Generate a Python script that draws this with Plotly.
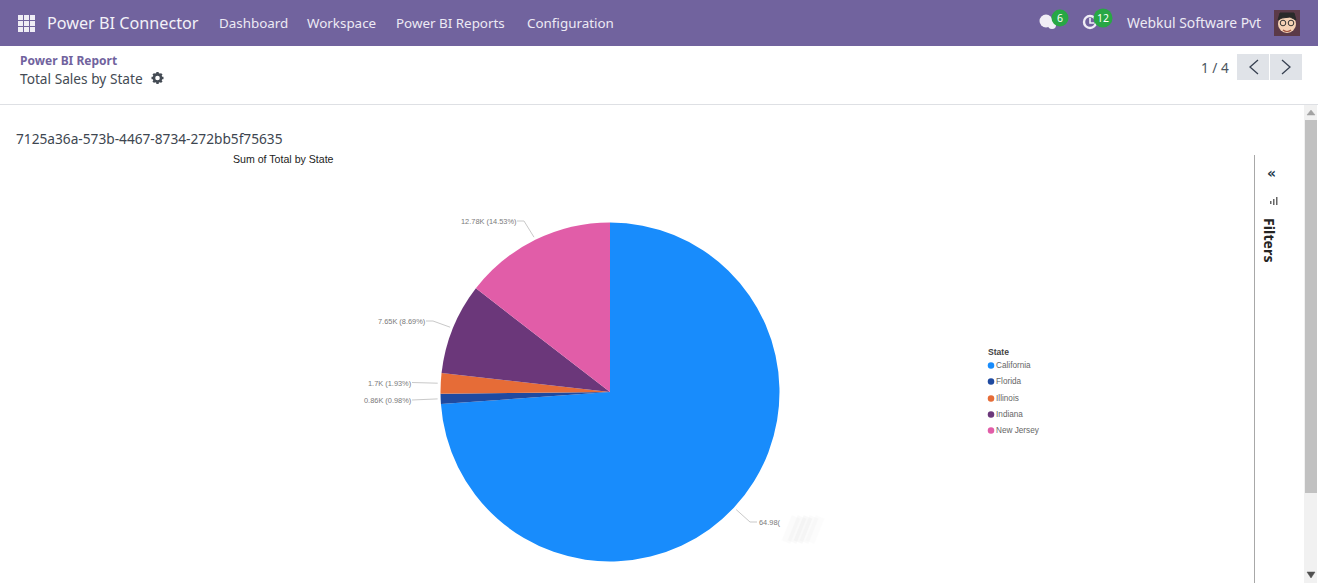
import math
import plotly.graph_objects as go

# ---- data ----
states = ["California", "Florida", "Illinois", "Indiana", "New Jersey"]
totals = [64.98, 0.86, 1.70, 7.65, 12.78]
shares = [73.87, 0.98, 1.93, 8.69, 14.53]
slice_labels = ["64.98(", "0.86K (0.98%)", "1.7K (1.93%)", "7.65K (8.69%)", "12.78K (14.53%)"]
colors = ["#188CFC", "#1F4AA0", "#E66C37", "#6B377A", "#E15DA8"]
chart_title = "Sum of Total by State"
legend_title = "State"
report_id = "7125a36a-573b-4467-8734-272bb5f75635"
menu_items = ["Dashboard", "Workspace", "Power BI Reports", "Configuration"]
menu_x = [219, 307, 396, 527]
legend_y = [365, 381, 398, 414, 430]

W, H = 1318, 583
CX, CY, R = 610, 392, 169.5
UI = "Noto Sans"
CHART = "Liberation Sans"
GREY = "#7a7a7a"
# elbow / end offsets of each leader line relative to the slice edge
elbows = [(750, 522, 757), (412, 400, 412), (412, 382.5, 412), (433, 321, 426), (524, 221, 517)]

shapes, notes = [], []


def text(x, y, s, size=13, color="#444", anchor="left", font=UI, **kw):
    notes.append(dict(x=x, y=y, text=s, xref="x", yref="y", showarrow=False, xanchor=anchor,
                      yanchor="middle", font=dict(family=font, size=size, color=color),
                      borderpad=0, borderwidth=0, **kw))


def rect(x0, y0, x1, y1, color, **kw):
    shapes.append(dict(type="rect", x0=x0, y0=y0, x1=x1, y1=y1, xref="x", yref="y",
                       fillcolor=color, line=dict(width=0), **kw))


def path(d, color, width=1.5, fill=None):
    shapes.append(dict(type="path", path=d, xref="x", yref="y", fillcolor=fill or "rgba(0,0,0,0)",
                       line=dict(color=color, width=width)))


def circle(x, y, r, color, line=None, width=0):
    shapes.append(dict(type="circle", x0=x - r, x1=x + r, y0=y - r, y1=y + r, xref="x", yref="y",
                       fillcolor=color, line=dict(color=line or color, width=width)))


# ---- navbar ----
rect(0, 0, W, 46, "#71639E")
for i in range(3):
    for j in range(3):
        rect(18 + i * 6, 15 + j * 6, 23 + i * 6, 20 + j * 6, "#EFEDF5")
text(47, 22.5, "Power BI Connector", 16.2, "#F3F1F8")
for label, x in zip(menu_items, menu_x):
    text(x, 22.5, label, 13.4, "#EDEAF4")
text(1127, 22.5, "Webkul Software Pvt", 13.9, "#EDEAF4")

# chat icon + badge
circle(1046, 21, 6.5, "#F0EEF6")
circle(1052, 25, 4, "#F0EEF6")
circle(1060, 18, 8.5, "#28A745")
text(1060, 17.5, "6", 10.5, "#FFFFFF", "center")
# clock icon + badge
circle(1090, 22, 6, "#71639E", "#F0EEF6", 2.4)
path("M 1090 18 L 1090 23 L 1094 23", "#F0EEF6", 1.6)
circle(1103, 18, 9.5, "#28A745")
text(1103, 17.5, "12", 10.5, "#FFFFFF", "center")

# avatar
rect(1274, 10, 1300, 36, "#5B3A48")
circle(1287, 24, 9, "#F5D2B5")
path("M 1278 20 L 1280 13 L 1294 13 L 1296 20 L 1290 17 L 1282 18 Z", "#2A2A2A", 1, "#2A2A2A")
circle(1283, 23, 2.8, "#F5D2B5", "#333333", 1)
circle(1291, 23, 2.8, "#F5D2B5", "#333333", 1)
path("M 1283 30 Q 1287 33 1291 30", "#A0503C", 1.2)

# ---- breadcrumb ----
text(20, 60.9, "<b>Power BI Report</b>", 12, "#71639E")
text(20, 78.5, "Total Sales by State", 13.7, "#444B54")
# solid gear
for k in range(4):
    a = k * math.pi / 4
    shapes.append(dict(type="line", xref="x", yref="y", x0=157.5 - 6 * math.cos(a), y0=78 - 6 * math.sin(a),
                       x1=157.5 + 6 * math.cos(a), y1=78 + 6 * math.sin(a), line=dict(color="#444B54", width=2.4)))
circle(157.5, 78, 3.6, "#FFFFFF", "#444B54", 2.6)
text(1229, 67, "1 / 4", 13.6, "#4A5560", "right")
rect(1237, 54, 1269, 80, "#E0E3E8")
rect(1270, 54, 1302, 80, "#E0E3E8")
path("M 1258 60 L 1250 67 L 1258 74", "#374151", 1.3)
path("M 1282 60 L 1290 67 L 1282 74", "#374151", 1.3)
rect(0, 104, W, 105, "#DEE0E4")

# ---- report body ----
text(16, 138.5, report_id, 13.7, "#3D4650")
text(283.5, 159, chart_title, 10.6, "#222222", "center", CHART)

# right rail
rect(1254, 155, 1255, 583, "#A8A8A8")
text(1271.5, 173, "<b>«</b>", 14, "#1F3A4D", "center", "DejaVu Sans")
for x0, y0 in ((1270, 201), (1273, 199), (1276, 197)):
    rect(x0, y0, x0 + 1.5, 205 if x0 != 1270 else 204, "#666666")
text(1270, 240, "<b>Filters</b>", 14.2, "#252423", "center", "Open Sans", textangle=90)

# scrollbar
rect(1304, 105, W - 1, 583, "#F1F1F1")
rect(1305, 120, 1317, 493, "#C1C1C1")
path("M 1307 115 L 1311 110 L 1315 115 Z", "#A3A3A3", 0.5, "#A3A3A3")
path("M 1307 572 L 1311 578 L 1315 572 Z", "#505050", 0.5, "#505050")

# ---- leader lines and slice labels (positions follow the slice mid-angles) ----
running = 0.0
total_share = sum(shares)
for label, share, (ex, ey, tx) in zip(slice_labels, shares, elbows):
    mid = (running + share / 2) / total_share * 2 * math.pi
    running += share
    sx = CX + (R + 3) * math.sin(mid)
    sy = CY - (R + 3) * math.cos(mid)
    path(f"M {sx:.1f} {sy:.1f} L {ex} {ey} L {tx} {ey}", "#C9C9C9", 1)
    if tx > CX:
        text(tx + 2, ey + 0.5, label, 7.4, GREY, "left", CHART)
    else:
        text(tx - 1, ey + 0.5, label, 7.4, GREY, "right", CHART)

# faint smudge beside the truncated California label
for dx, op in ((0, 0.015), (6, 0.025), (12, 0.03), (18, 0.02), (24, 0.012)):
    shapes.append(dict(type="line", x0=786 + dx, y0=542, x1=796 + dx, y1=517, xref="x", yref="y",
                       opacity=op, line=dict(color="#555555", width=9)))

# ---- legend ----
text(988, 351.5, f"<b>{legend_title}</b>", 8.6, "#444444", "left", CHART)

fig = go.Figure()
fig.add_trace(go.Pie(
    labels=states, values=totals, sort=False, direction="clockwise", rotation=0,
    marker=dict(colors=colors, line=dict(width=0)), textinfo="none", hoverinfo="label+value+percent",
    showlegend=False,
    domain=dict(x=[(CX - R) / W, (CX + R) / W], y=[1 - (CY + R) / H, 1 - (CY - R) / H]),
))
fig.add_trace(go.Scatter(
    x=[991] * len(states), y=[v + 0.5 for v in legend_y], mode="markers+text", text=states,
    textposition="middle right",
    textfont=dict(family=CHART, size=8.2, color="#666666"),
    marker=dict(size=6.5, color=colors, line=dict(width=0)), showlegend=False, hoverinfo="text",
))
fig.update_layout(
    width=W, height=H, margin=dict(l=0, r=0, t=0, b=0), paper_bgcolor="#FFFFFF", plot_bgcolor="rgba(0,0,0,0)",
    xaxis=dict(range=[0, W], visible=False, fixedrange=True, domain=[0, 1]),
    yaxis=dict(range=[H, 0], visible=False, fixedrange=True, domain=[0, 1]),
    shapes=shapes, annotations=notes,
)
fig.write_html("out.html", config=dict(displayModeBar=False),
               post_script="document.body.style.margin='0';document.body.style.overflow='hidden';")
